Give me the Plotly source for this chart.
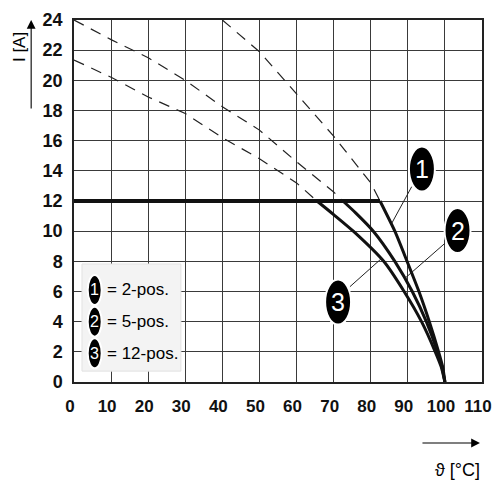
import plotly.graph_objects as go

# derating curves, current I [A] over ambient temperature [°C]
temp_2pos = [82.5, 86.5, 89.8, 93.0, 95.8, 98.3, 99.4, 100]
current_2pos = [12, 10, 8, 6, 4, 2, 1, 0]
temp_5pos = [72.5, 76.0, 80.7, 86.5, 91.2, 95.0, 98.0, 99.2, 100]
current_5pos = [12, 11.2, 10, 8, 6, 4, 2, 1, 0]
temp_12pos = [65.5, 70.0, 75.3, 83.5, 89.0, 93.7, 97.4, 99.0, 100]
current_12pos = [12, 11.1, 10, 8, 6, 4, 2, 1, 0]

# plateau at 12 A
plateau_temp = [0, 82.5]
plateau_current = [12, 12]

# dashed (unlimited) curves
dash_temp_2pos = [40, 50, 60, 70, 80, 82.5]
dash_cur_2pos = [24, 21.9, 19.1, 16.3, 13.2, 12]
dash_temp_5pos = [0, 10, 20, 30, 40, 50, 60, 70, 72.5]
dash_cur_5pos = [24, 22.7, 21.5, 20, 18.25, 16.7, 14.6, 12.6, 12]
dash_temp_12pos = [0, 10, 20, 30, 40, 50, 60, 65.5]
dash_cur_12pos = [21.35, 20.2, 18.9, 17.8, 16.2, 14.8, 13.2, 12]

x_ticks = list(range(0, 111, 10))
y_ticks = list(range(0, 25, 2))
labels = ["1", "2", "3"]
legend_texts = ["= 2-pos.", "= 5-pos.", "= 12-pos."]

NARROW = "Liberation Sans, Arial, sans-serif"

fig = go.Figure()

for tx, cy in [(dash_temp_2pos, dash_cur_2pos), (dash_temp_5pos, dash_cur_5pos),
               (dash_temp_12pos, dash_cur_12pos)]:
    fig.add_trace(go.Scatter(x=tx, y=cy, mode="lines",
                             line=dict(color="#222", width=1.2, dash="11px,8px")))

fig.add_trace(go.Scatter(x=plateau_temp, y=plateau_current, mode="lines",
                         line=dict(color="#111", width=4)))
for tx, cy in [(temp_2pos, current_2pos), (temp_5pos, current_5pos),
               (temp_12pos, current_12pos)]:
    fig.add_trace(go.Scatter(x=tx, y=cy, mode="lines",
                             line=dict(color="#111", width=3, shape="spline", smoothing=0.6)))

shapes = []
annotations = []

# legend box
shapes.append(dict(type="rect", xref="paper", yref="paper", x0=0.0196, x1=0.262,
                   y0=0.030, y1=0.326, fillcolor="#f3f3f3",
                   line=dict(color="#e2e2e2", width=1), layer="above"))


def bubble(cx, cy, w, h, txt, size):
    # black ellipse with white number, w/h in data units
    shapes.append(dict(type="circle", xref="x", yref="y",
                       x0=cx - w / 2, x1=cx + w / 2, y0=cy - h / 2, y1=cy + h / 2,
                       fillcolor="black", line=dict(color="white", width=2), layer="above"))
    annotations.append(dict(x=cx, y=cy, xref="x", yref="y", text=txt, showarrow=False,
                            font=dict(family=NARROW, size=size, color="white")))


# leader lines of callouts
leaders = [((91.05, 12.95), (85.66, 10.52)),
           ((100.03, 9.20), (89.24, 6.88)),
           ((74.4, 6.32), (82.96, 8.20))]
for (x0, y0), (x1, y1) in leaders:
    shapes.append(dict(type="line", xref="x", yref="y", x0=x0, y0=y0, x1=x1, y1=y1,
                       line=dict(color="#222", width=1), layer="above"))

callouts = [(93.8, 14.12), (103.4, 10.04), (71.2, 5.30)]
for (cx, cy), lab in zip(callouts, labels):
    bubble(cx, cy, 7.0, 2.98, lab, 25)

legend_rows = [6.1, 4.0, 1.9]
for yy, lab, txt in zip(legend_rows, labels, legend_texts):
    bubble(5.58, yy, 3.77, 1.99, lab, 16)
    annotations.append(dict(x=8.3, y=yy, xref="x", yref="y", text=txt, showarrow=False,
                            xanchor="left", font=dict(family=NARROW, size=17, color="black")))

# axis arrows and titles
annotations.append(dict(x=-0.105, y=1.0, xref="paper", yref="paper", ax=0, ay=90,
                        axref="pixel", ayref="pixel", text="", showarrow=True,
                        arrowhead=2, arrowsize=1.6, arrowwidth=1.1, arrowcolor="black"))
annotations.append(dict(x=-0.135, y=0.925, xref="paper", yref="paper", text="I [A]",
                        showarrow=False, textangle=-90, xanchor="center", yanchor="middle",
                        font=dict(family=NARROW, size=17, color="black")))
annotations.append(dict(x=0.995, y=-0.1685, xref="paper", yref="paper", ax=-59, ay=0,
                        axref="pixel", ayref="pixel", text="", showarrow=True,
                        arrowhead=2, arrowsize=1.6, arrowwidth=1.1, arrowcolor="black"))
annotations.append(dict(x=0.939, y=-0.243, xref="paper", yref="paper", text="ϑ [°C]",
                        showarrow=False, xanchor="center", yanchor="middle",
                        font=dict(family=NARROW, size=18, color="black")))

tickfont = dict(family=NARROW, size=18, color="#111", weight="bold")

fig.update_layout(
    width=492, height=484,
    margin=dict(l=66, r=18, t=12, b=110, autoexpand=False),
    paper_bgcolor="white", plot_bgcolor="white",
    showlegend=False,
    shapes=shapes, annotations=annotations,
    xaxis=dict(range=[0, 110], tickvals=x_ticks, showgrid=True, gridcolor="#3a3a3a",
               gridwidth=1.3, showline=True, linecolor="#222", linewidth=1.5, mirror=True,
               zeroline=False, ticks="", tickfont=dict(tickfont, size=17),
               ticklabelstandoff=8, ticklabelshift=-4, automargin=False),
    yaxis=dict(range=[0, 24], tickvals=y_ticks, showgrid=True, gridcolor="#3a3a3a",
               gridwidth=1.3, showline=True, linecolor="#222", linewidth=1.5, mirror=True,
               zeroline=False, ticks="", tickfont=tickfont, ticklabelstandoff=6,
               automargin=False),
)

fig.write_html("out.html")
